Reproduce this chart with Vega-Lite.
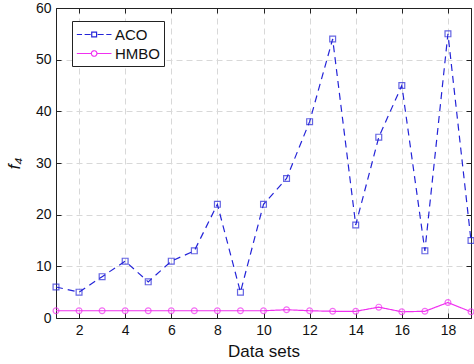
{
  "$schema": "https://vega.github.io/schema/vega-lite/v6.json",
  "autosize": "none",
  "padding": {"left": 56, "top": 8, "right": 3, "bottom": 46},
  "width": 415,
  "height": 310,
  "background": "white",
  "config": {
    "font": "Liberation Sans",
    "view": {"stroke": "#222", "strokeWidth": 1},
    "axis": {
      "labelFont": "Liberation Sans", "titleFont": "Liberation Sans",
      "labelFontSize": 14, "titleFontSize": 17, "titleFontWeight": "normal",
      "labelColor": "#111", "titleColor": "#111",
      "domainColor": "#222", "tickColor": "#222",
      "gridColor": "#d8d8d8", "gridDash": [6, 4], "gridWidth": 1,
      "tickSize": -5, "labelPadding": 10
    }
  },
  "data": {"values": [
    {"x": 1, "s": "ACO", "y": 6}, {"x": 2, "s": "ACO", "y": 5}, {"x": 3, "s": "ACO", "y": 8},
    {"x": 4, "s": "ACO", "y": 11}, {"x": 5, "s": "ACO", "y": 7}, {"x": 6, "s": "ACO", "y": 11},
    {"x": 7, "s": "ACO", "y": 13}, {"x": 8, "s": "ACO", "y": 22}, {"x": 9, "s": "ACO", "y": 5},
    {"x": 10, "s": "ACO", "y": 22}, {"x": 11, "s": "ACO", "y": 27}, {"x": 12, "s": "ACO", "y": 38},
    {"x": 13, "s": "ACO", "y": 54}, {"x": 14, "s": "ACO", "y": 18}, {"x": 15, "s": "ACO", "y": 35},
    {"x": 16, "s": "ACO", "y": 45}, {"x": 17, "s": "ACO", "y": 13}, {"x": 18, "s": "ACO", "y": 55},
    {"x": 19, "s": "ACO", "y": 15},
    {"x": 1, "s": "HMBO", "y": 1.4}, {"x": 2, "s": "HMBO", "y": 1.4}, {"x": 3, "s": "HMBO", "y": 1.4},
    {"x": 4, "s": "HMBO", "y": 1.4}, {"x": 5, "s": "HMBO", "y": 1.4}, {"x": 6, "s": "HMBO", "y": 1.4},
    {"x": 7, "s": "HMBO", "y": 1.4}, {"x": 8, "s": "HMBO", "y": 1.4}, {"x": 9, "s": "HMBO", "y": 1.4},
    {"x": 10, "s": "HMBO", "y": 1.4}, {"x": 11, "s": "HMBO", "y": 1.6}, {"x": 12, "s": "HMBO", "y": 1.4},
    {"x": 13, "s": "HMBO", "y": 1.3}, {"x": 14, "s": "HMBO", "y": 1.3}, {"x": 15, "s": "HMBO", "y": 2.1},
    {"x": 16, "s": "HMBO", "y": 1.2}, {"x": 17, "s": "HMBO", "y": 1.3}, {"x": 18, "s": "HMBO", "y": 3.0},
    {"x": 19, "s": "HMBO", "y": 1.2}
  ]},
  "layer": [
    {
      "encoding": {
        "x": {"field": "x", "type": "quantitative", "scale": {"domain": [1, 19], "nice": false, "zero": false},
              "axis": {"title": "Data sets", "orient": "bottom", "grid": true, "values": [2, 4, 6, 8, 10, 12, 14, 16, 18], "titlePadding": 6}},
        "y": {"field": "y", "type": "quantitative", "scale": {"domain": [0, 60], "nice": false},
              "axis": {"title": "f₄", "orient": "left", "grid": true, "titleFontStyle": "italic", "values": [0, 10, 20, 30, 40, 50, 60], "titlePadding": 12}},
        "color": {"field": "s", "type": "nominal", "scale": {"domain": ["ACO", "HMBO"], "range": ["#2424d8", "#f030f0"]},
                  "legend": {"title": null, "orient": "none", "legendX": 16, "legendY": 13, "direction": "vertical",
                             "strokeColor": "#222", "fillColor": "white", "padding": 4, "labelFontSize": 15, "labelOffset": 20,
                             "labelFont": "Liberation Sans", "labelColor": "#111", "symbolSize": 300, "symbolStrokeWidth": 1.2, "rowPadding": 1,
                             "symbolType": "M-1,0H1",
                             "encode": {"symbols": {"update": {"shape": {"signal": "datum.value === 'ACO' ? 'M-1,0H-0.4M-0.1,0H0.6M0.72,-0.28H1.28V0.28H0.72ZM1.4,0H2.1M2.4,0H3' : 'M-1,0H0.68M1.32,0H3M1.32,0A0.32,0.32 0 1,1 0.68,0A0.32,0.32 0 1,1 1.32,0Z'"}, "fill": {"value": "transparent"}, "strokeDash": {"value": [1, 0]}}}}}}
      },
      "layer": [
        {
          "mark": {"type": "line", "strokeWidth": 1.2},
          "encoding": {
            "strokeDash": {"condition": {"test": "datum.s === 'ACO'", "value": [7, 5]}, "value": [1, 0]}
          }
        },
        {
          "mark": {"type": "point", "filled": false, "size": 34, "strokeWidth": 1.2},
          "encoding": {
            "shape": {"condition": {"test": "datum.s === 'ACO'", "value": "square"}, "value": "circle"}
          }
        }
      ]
    },
    {
      "mark": {"type": "point", "opacity": 0},
      "encoding": {
        "x": {"field": "x", "type": "quantitative", "scale": {"domain": [1, 19], "nice": false, "zero": false},
              "axis": {"orient": "top", "title": null, "labels": false, "grid": false, "values": [2, 4, 6, 8, 10, 12, 14, 16, 18]}},
        "y": {"field": "y", "type": "quantitative", "scale": {"domain": [0, 60], "nice": false},
              "axis": {"orient": "right", "title": null, "labels": false, "grid": false, "values": [0, 10, 20, 30, 40, 50, 60]}}
      }
    }
  ],
  "resolve": {"axis": {"x": "independent", "y": "independent"}}
}
